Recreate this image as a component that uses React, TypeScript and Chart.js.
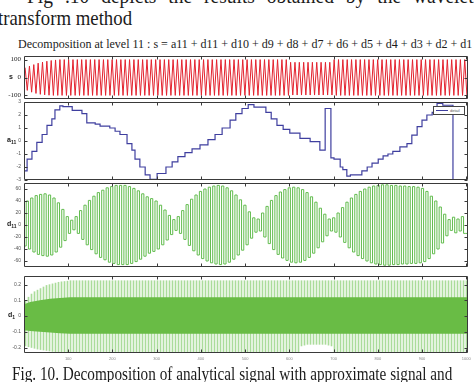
import React, { useEffect, useLayoutEffect, useRef, useState } from "react";
import { Chart, registerables } from "chart.js";

Chart.register(...registerables);

// ---------------- data ----------------
const X_MIN = 0;
const X_MAX = 1004;
const X_TICKS = [100, 200, 300, 400, 500, 600, 700, 800, 900, 1000];

// panel 1 : s (peak / trough of each oscillation cycle)
const S_TICKS = [-100, 0, 100];
const S_UPPER = [
  55, 64, 72, 80, 86, 91, 95, 98, 100, 100,
  100, 100, 100, 100, 100, 100, 100, 100, 100, 100,
  100, 100, 100, 100, 100, 100, 100, 100, 100, 100,
  100, 100, 100, 100, 100, 100, 100, 100, 100, 100,
  100, 100, 100, 100, 100, 100, 100, 100, 100, 100,
  100, 100, 100, 100, 100, 100, 100, 100, 100, 100,
  100, 85, 85, 85, 85, 85, 85, 85, 85, 85,
  85, 100, 100, 100, 100, 100, 100, 100, 100, 100,
  100, 100, 100, 100, 100, 100, 100, 100, 100, 100,
  100, 100, 100, 100, 100, 100, 100, 100, 100, 100,
  100, 100,
];
const S_LOWER = [
  -72, -82, -89, -94, -97, -99, -100, -100, -100, -100,
  -100, -100, -100, -100, -100, -100, -100, -100, -100, -100,
  -100, -100, -100, -100, -100, -100, -100, -100, -100, -100,
  -100, -100, -100, -100, -100, -100, -100, -100, -100, -100,
  -100, -100, -100, -100, -100, -100, -100, -100, -100, -100,
  -100, -100, -100, -100, -100, -100, -100, -100, -100, -100,
  -100, -98, -98, -98, -98, -98, -98, -98, -98, -98,
  -98, -100, -100, -100, -100, -100, -100, -100, -100, -100,
  -100, -100, -100, -100, -100, -100, -100, -100, -100, -100,
  -100, -100, -100, -100, -100, -100, -100, -100, -100, -100,
  -100, -100,
];

// panel 2 : a11 (step starts and levels)
const A11_TICKS = [-3, -2, -1, 0, 1, 2, 3];
const A11_X = [
  0, 7, 18, 29, 41, 52, 63, 70, 81, 88, 109, 131, 142, 161, 172, 194, 206, 217, 233, 244,
  251, 262, 274, 285, 301, 321, 335, 348, 364, 380, 398, 416, 432, 448, 466, 479, 493, 507, 520, 547,
  559, 572, 586, 601, 624, 647, 669, 681, 694, 701, 715, 721, 730, 738, 764, 776, 787, 801, 812, 823,
  834, 850, 866, 877, 889, 900, 911, 923, 934, 947, 970, 990, 1004,
];
const A11_Y = [
  -2.0, -2.3, -1.4, -0.8, -0.1, 0.5, 1.2, 1.7, 2.4, 2.7, 2.65, 2.35, 2.1, 1.4, 1.3, 1.15, 1.0, 0.75, 0.5, -0.2,
  -0.7, -1.4, -2.0, -2.6, -2.95, -2.5, -2.0, -1.6, -1.2, -0.9, -0.6, -0.3, 0.1, 0.5, 1.0, 1.6, 2.1, 2.5, 2.8, 2.6,
  2.2, 1.7, 1.2, 0.9, 0.6, 0.2, -0.05, -0.7, 2.5, -1.3, -1.4, -2.0, -2.2, -2.7, -2.6, -2.3, -2.0, -1.7, -1.4, -1.15,
  -1.0, -0.8, -0.45, -0.2, 0.45, 1.1, 1.6, 2.0, 2.2, 2.9, 2.75, -3.3, -3.3,
];

// panel 3 : d11 (amplitude of each square-wave cycle)
const D11_TICKS = [-60, -40, -20, 0, 20, 40, 60];
const D11_AMP = [
  35, 40, 45, 49, 51, 52, 50, 45, 37, 26,
  14, 8, 14, 24, 33, 41, 48, 54, 58, 62,
  64, 66, 66, 66, 64, 61, 57, 52, 47, 44,
  40, 33, 25, 16, 9, 14, 24, 34, 43, 50,
  56, 60, 63, 65, 66, 65, 62, 57, 50, 42,
  33, 22, 12, 10, 20, 31, 41, 49, 55, 59,
  62, 63, 62, 59, 54, 47, 38, 28, 18, 10,
  12, 20, 29, 38, 45, 51, 56, 60, 63, 65,
  66, 67, 67, 66, 66, 65, 65, 64, 64, 63,
  61, 56, 48, 40, 30, 18, 9, 13, 10, 14,
];

// panel 4 : d1 (outer extent of the oscillation, and solid core band)
const D1_TICKS = [-0.2, -0.1, 0, 0.1, 0.2];
const D1_HI = [
  0.1, 0.12, 0.14, 0.155, 0.165, 0.175, 0.185, 0.195, 0.2, 0.205, 0.21, 0.215, 0.218, 0.22, 0.222,
  0.225, 0.225, 0.225, 0.225, 0.225, 0.225, 0.225, 0.225, 0.225, 0.225, 0.225, 0.225, 0.225, 0.225, 0.225, 0.225, 0.225, 0.225, 0.225,
  0.225, 0.225, 0.225, 0.225, 0.225, 0.225, 0.225, 0.225, 0.225, 0.225, 0.225, 0.225, 0.225, 0.225, 0.225, 0.225, 0.225, 0.225, 0.225,
  0.225, 0.225, 0.225, 0.225, 0.225, 0.225, 0.225, 0.225, 0.225, 0.225, 0.225, 0.225, 0.225, 0.225, 0.225, 0.225, 0.225, 0.225, 0.225,
  0.225, 0.225, 0.225, 0.225, 0.225, 0.225, 0.225, 0.225, 0.225, 0.225, 0.225, 0.225, 0.225, 0.225, 0.225, 0.225, 0.225, 0.225, 0.225,
  0.225, 0.225, 0.225, 0.225, 0.225, 0.225, 0.225, 0.225, 0.225, 0.225, 0.225, 0.225, 0.225, 0.225, 0.225, 0.225, 0.225, 0.225, 0.225,
  0.225, 0.225, 0.225, 0.225, 0.225, 0.225, 0.225, 0.225, 0.225, 0.225, 0.225, 0.225, 0.225, 0.225, 0.225, 0.225, 0.225, 0.225, 0.225,
  0.225, 0.225, 0.225, 0.225, 0.225, 0.225, 0.225, 0.225, 0.225, 0.225, 0.225, 0.225, 0.225, 0.225, 0.225, 0.225, 0.225, 0.225, 0.225,
];
const D1_LO = [
  -0.19, -0.195, -0.2, -0.205, -0.21, -0.213, -0.216, -0.219, -0.222, -0.225, -0.227, -0.229, -0.23, -0.231, -0.232,
  -0.232, -0.232, -0.232, -0.232, -0.232, -0.232, -0.232, -0.232, -0.232, -0.232, -0.232,
  -0.232, -0.232, -0.232, -0.232, -0.232, -0.232, -0.232, -0.232, -0.232, -0.232, -0.232,
  -0.232, -0.232, -0.232, -0.232, -0.232, -0.232, -0.232, -0.232, -0.232, -0.232, -0.232,
  -0.232, -0.232, -0.232, -0.232, -0.232, -0.232, -0.232, -0.232, -0.232, -0.232, -0.232,
  -0.232, -0.232, -0.232, -0.232, -0.232, -0.232, -0.232, -0.232, -0.232, -0.232, -0.232,
  -0.232, -0.232, -0.232, -0.232, -0.232, -0.232, -0.232, -0.232, -0.232, -0.232, -0.232,
  -0.232, -0.232, -0.232, -0.232, -0.232, -0.232, -0.232, -0.232, -0.232, -0.232, -0.232,
  -0.19, -0.185, -0.18, -0.18, -0.18, -0.18, -0.18, -0.18, -0.18, -0.185, -0.19,
  -0.232, -0.232, -0.232, -0.232, -0.232, -0.232, -0.232, -0.232, -0.232,
  -0.232, -0.232, -0.232, -0.232, -0.232, -0.232, -0.232, -0.232, -0.232,
  -0.232, -0.232, -0.232, -0.232, -0.232, -0.232, -0.232, -0.232, -0.232,
  -0.232, -0.232, -0.232, -0.232, -0.232, -0.232, -0.232, -0.232, -0.232,
  -0.232, -0.232, -0.232, -0.232, -0.232, -0.232, -0.232, -0.232, -0.232,
];
const D1_CORE_X = [0, 14, 36, 59, 81, 104, 1004];
const D1_CORE_HI = [0.075, 0.09, 0.1, 0.11, 0.115, 0.12, 0.12];
const D1_CORE_LO = [-0.09, -0.095, -0.1, -0.105, -0.11, -0.112, -0.112];

// ---------------- layout / style ----------------
const W = 474;
const H = 382;
const PLOT_LEFT = 24;
const PLOT_RIGHT = 468;
const PAD_T = 3;
const PAD_B = 3;
const X_AXIS_H = 9;
const SERIF = '"Liberation Serif", "Times New Roman", serif';
const SANS = '"Liberation Sans", Arial, sans-serif';

const PANELS = [
  { top: 56, bottom: 99, min: -120, max: 120, ticks: S_TICKS, font: { family: SERIF, size: 7 }, color: "#222", showX: false },
  { top: 102, bottom: 180, min: -3, max: 3, ticks: A11_TICKS, font: { family: SANS, size: 5 }, color: "#555", showX: false },
  { top: 183, bottom: 267, min: -70, max: 70, ticks: D11_TICKS, font: { family: SANS, size: 5 }, color: "#555", showX: false },
  { top: 276, bottom: 353, min: -0.235, max: 0.255, ticks: D1_TICKS, font: { family: SANS, size: 5 }, color: "#555", showX: true },
];

const framePlugin = {
  id: "frame",
  afterDraw(chart: any) {
    const { ctx, chartArea: a, scales } = chart;
    const l = Math.round(a.left) + 0.5;
    const r = Math.round(a.right) - 0.5;
    const t = Math.round(a.top) + 0.5;
    const b = Math.round(a.bottom) - 0.5;
    ctx.save();
    ctx.strokeStyle = "#3a3a3a";
    ctx.lineWidth = 1;
    ctx.beginPath();
    ctx.rect(l, t, r - l, b - t);
    const xs = scales.x;
    const ys = scales.y;
    xs.ticks.forEach((tk: any) => {
      const px = Math.round(xs.getPixelForValue(tk.value)) + 0.5;
      ctx.moveTo(px, b);
      ctx.lineTo(px, b - 3);
      ctx.moveTo(px, t);
      ctx.lineTo(px, t + 3);
    });
    ys.ticks.forEach((tk: any) => {
      const py = Math.round(ys.getPixelForValue(tk.value)) + 0.5;
      ctx.moveTo(l, py);
      ctx.lineTo(l + 3, py);
      ctx.moveTo(r, py);
      ctx.lineTo(r - 3, py);
    });
    ctx.stroke();
    ctx.restore();
  },
};

function makeOptions(p: any) {
  return {
    responsive: false,
    animation: false,
    events: [],
    layout: { padding: { left: 0, right: W - PLOT_RIGHT, top: PAD_T, bottom: p.showX ? 1 : PAD_B } },
    plugins: { legend: { display: false }, tooltip: { enabled: false } },
    elements: { point: { radius: 0 }, line: { tension: 0 } },
    scales: {
      x: {
        type: "linear",
        min: X_MIN,
        max: X_MAX,
        offset: false,
        grid: { display: false, drawTicks: false },
        border: { display: false },
        ticks: {
          display: p.showX,
          font: { family: SANS, size: 4 },
          color: "#888",
          padding: 3,
          maxRotation: 0,
          autoSkip: false,
          callback: (v: any) => String(v),
        },
        afterBuildTicks: (s: any) => {
          s.ticks = X_TICKS.map((v) => ({ value: v }));
        },
        afterFit: (s: any) => {
          s.height = p.showX ? X_AXIS_H : 0;
          s.paddingLeft = 0;
          s.paddingRight = 0;
        },
      },
      y: {
        type: "linear",
        min: p.min,
        max: p.max,
        grid: { display: false, drawTicks: false },
        border: { display: false },
        ticks: {
          font: p.font,
          color: p.color,
          padding: 3,
          autoSkip: false,
          callback: (v: any) => String(v),
        },
        afterBuildTicks: (s: any) => {
          s.ticks = p.ticks.map((v: number) => ({ value: v }));
        },
        afterFit: (s: any) => {
          s.width = PLOT_LEFT;
          s.paddingTop = 0;
          s.paddingBottom = 0;
        },
      },
    },
  };
}

function makeDatasets(i: number): any[] {
  if (i === 0) {
    const P = X_MAX / S_UPPER.length;
    const pts: any[] = [];
    S_UPPER.forEach((u, k) => {
      pts.push({ x: (k + 0.25) * P, y: u });
      pts.push({ x: (k + 0.75) * P, y: S_LOWER[k] });
    });
    return [{ type: "line", data: pts, borderColor: "#e3222e", borderWidth: 1, pointRadius: 0, fill: false }];
  }
  if (i === 1) {
    const pts = A11_X.map((x, k) => ({ x, y: A11_Y[k] }));
    return [{ type: "line", data: pts, borderColor: "#3f3f9f", borderWidth: 1.2, pointRadius: 0, stepped: "after", fill: false }];
  }
  if (i === 2) {
    const P = X_MAX / D11_AMP.length;
    const pts: any[] = [];
    D11_AMP.forEach((a, k) => {
      pts.push({ x: k * P, y: a });
      pts.push({ x: (k + 0.5) * P, y: -a });
    });
    pts.push({ x: X_MAX, y: -D11_AMP[D11_AMP.length - 1] });
    return [{ type: "line", data: pts, borderColor: "#62bc4e", borderWidth: 1, pointRadius: 0, stepped: "after", fill: false }];
  }
  const Q = X_MAX / D1_HI.length;
  return [
    {
      type: "bar",
      data: D1_HI.map((h, j) => ({ x: (j + 0.5) * Q, y: [D1_LO[j], h] })),
      backgroundColor: "rgba(118, 198, 92, 0.62)",
      borderWidth: 0,
      barThickness: 1,
      order: 3,
    },
    {
      type: "line",
      data: D1_CORE_X.map((x, k) => ({ x, y: D1_CORE_HI[k] })),
      borderWidth: 0,
      borderColor: "rgba(0,0,0,0)",
      backgroundColor: "#69bc45",
      pointRadius: 0,
      fill: "+1",
      order: 1,
    },
    {
      type: "line",
      data: D1_CORE_X.map((x, k) => ({ x, y: D1_CORE_LO[k] })),
      borderWidth: 0,
      borderColor: "rgba(0,0,0,0)",
      pointRadius: 0,
      fill: false,
      order: 2,
    },
  ];
}

function canvasBox(p: any) {
  const h = p.bottom - p.top + PAD_T + (p.showX ? X_AXIS_H + 1 : PAD_B);
  return { top: p.top - PAD_T, height: h };
}

function FitText(props: any) {
  const { text, left, baseline, width, size, family = SERIF, color = "#1b1b1b", wordSpacing = 0 } = props;
  const ref = useRef<HTMLSpanElement>(null);
  const [sx, setSx] = useState(1);
  useLayoutEffect(() => {
    const measure = () => {
      const el = ref.current;
      if (el && el.offsetWidth) setSx(width / el.offsetWidth);
    };
    measure();
    const f = (document as any).fonts;
    if (f && f.ready) f.ready.then(measure);
  }, [text, width, size]);
  return (
    <span
      ref={ref}
      style={{
        position: "absolute",
        left,
        top: baseline - 0.8375 * size,
        fontSize: size,
        lineHeight: 1,
        fontFamily: family,
        color,
        whiteSpace: "pre",
        wordSpacing,
        transform: `scaleX(${sx})`,
        transformOrigin: "0 0",
      }}
    >
      {text}
    </span>
  );
}

const axisName: any = {
  position: "absolute",
  fontFamily: SANS,
  fontWeight: "bold",
  fontSize: 7,
  lineHeight: "7px",
  color: "#222",
};
const subStyle: any = { fontSize: 5, verticalAlign: "-2px" };

export default function App() {
  const r0 = useRef<HTMLCanvasElement>(null);
  const r1 = useRef<HTMLCanvasElement>(null);
  const r2 = useRef<HTMLCanvasElement>(null);
  const r3 = useRef<HTMLCanvasElement>(null);
  const refs = [r0, r1, r2, r3];

  useEffect(() => {
    const charts = PANELS.map(
      (p, i) =>
        new Chart(refs[i].current as HTMLCanvasElement, {
          type: "line",
          data: { datasets: makeDatasets(i) },
          options: makeOptions(p) as any,
          plugins: [framePlugin],
        } as any)
    );
    return () => charts.forEach((c) => c.destroy());
  }, []);

  return (
    <div
      style={{
        position: "absolute",
        left: 0,
        top: 0,
        width: W,
        height: H,
        overflow: "hidden",
        background: "#fff",
      }}
    >
      <FitText text="Fig .10 depicts the results obtained by the wavelet" left={27} baseline={3} width={447} size={22} wordSpacing={8} />
      <FitText text="transform method" left={-2} baseline={25} width={134} size={22} />
      <FitText
        text="Decomposition at level 11 : s = a11 + d11 + d10 + d9 + d8 + d7 + d6 + d5 + d4 + d3 + d2 + d1"
        left={17.5}
        baseline={48}
        width={454}
        size={13}
      />
      {PANELS.map((p, i) => {
        const b = canvasBox(p);
        return (
          <canvas
            key={i}
            ref={refs[i]}
            width={W}
            height={b.height}
            style={{ position: "absolute", left: 0, top: b.top, width: W, height: b.height }}
          />
        );
      })}
      <div style={{ ...axisName, left: 9, top: 73 }}>s</div>
      <div style={{ ...axisName, left: 7, top: 136 }}>
        a<sub style={subStyle}>11</sub>
      </div>
      <div style={{ ...axisName, left: 7, top: 220 }}>
        d<sub style={subStyle}>11</sub>
      </div>
      <div style={{ ...axisName, left: 8, top: 311 }}>
        d<sub style={subStyle}>1</sub>
      </div>
      <div
        style={{
          position: "absolute",
          left: 433,
          top: 106,
          width: 30,
          height: 7,
          border: "1px solid #444",
          background: "#fff",
        }}
      >
        <div style={{ position: "absolute", left: 2, top: 3, width: 12, height: 1, background: "#3f3f9f" }} />
        <div style={{ position: "absolute", left: 16, top: 0, fontFamily: SANS, fontSize: 4, lineHeight: "7px", color: "#555" }}>
          detail
        </div>
      </div>
      <FitText
        text="Fig. 10. Decomposition of analytical signal with approximate signal and"
        left={12}
        baseline={380}
        width={440}
        size={18}
      />
    </div>
  );
}
